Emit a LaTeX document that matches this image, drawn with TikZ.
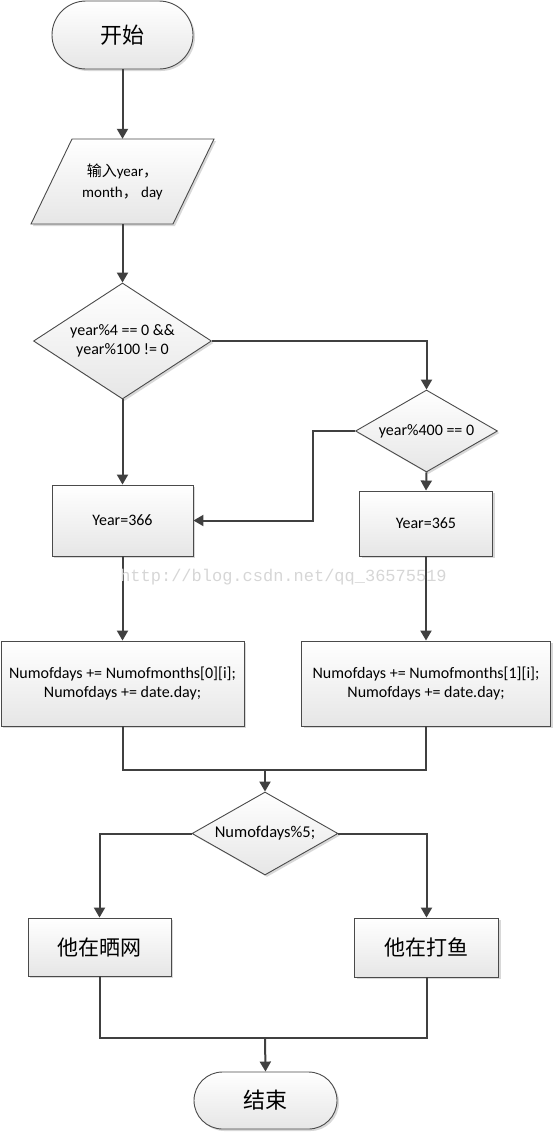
\documentclass[tikz,border=0pt]{standalone}
\usepackage{fontspec}
\setmainfont{Carlito}
\newfontfamily\cjk{Noto Sans CJK SC}
\newfontfamily\wmfont{Liberation Mono}
\usetikzlibrary{shapes.geometric,arrows.meta,shadows}
\definecolor{linec}{HTML}{404040}
\definecolor{bordc}{HTML}{4A4A4A}
\definecolor{fillb}{HTML}{E6E6E6}
\definecolor{wmc}{HTML}{D6D6D6}
\tikzset{
  shapebase/.style={draw=bordc, line width=0.9pt, top color=white, bottom color=fillb,
    drop shadow={shadow xshift=2pt, shadow yshift=-2pt, fill=black!30, opacity=0.5}},
  term/.style={shapebase, rectangle, inner sep=0pt, font=\cjk\fontsize{22}{24}\selectfont},
  proc/.style={shapebase, rectangle, inner sep=0pt, align=center, font=\fontsize{16}{19}\selectfont},
  cjkproc/.style={proc, font=\cjk\fontsize{21}{24}\selectfont},
  decision/.style={shapebase, diamond, inner sep=0pt, align=center, font=\fontsize{16}{19}\selectfont},
  conn/.style={draw=linec, line width=2pt},
  arr/.style={conn, -{Triangle[length=10pt,width=11pt]}},
}
\begin{document}
\begin{tikzpicture}[x=1pt, y=-1pt]
\useasboundingbox (0,0) rectangle (554,1133);

% start
\node[term, minimum width=141pt, minimum height=68pt, rounded corners=34pt] (start) at (122.5,35) {开始};

% input parallelogram
\draw[shapebase] (72,139) -- (214,139) -- (173,224) -- (31,224) -- cycle;
\node[inner sep=0pt, minimum height=85pt, align=center, font=\fontsize{15}{21}\selectfont] (in) at (122.5,181.5)
  {{\cjk 输入}year{\cjk ，}\\month{\cjk ，} day};

% decision 1
\node[decision, shape aspect=1.53, minimum width=178pt, minimum height=116pt] (d1) at (122.5,341)
  {year\%4 == 0 \&\&\\year\%100 != 0};

% decision 2
\node[decision, shape aspect=1.73, minimum width=142pt, minimum height=82pt] (d2) at (426.5,431) {year\%400 == 0};

% year boxes
\node[proc, minimum width=141pt, minimum height=71pt] (y366) at (122.5,520.5) {Year=366};
\node[proc, minimum width=133pt, minimum height=65pt] (y365) at (426,523.5) {Year=365};

% sum boxes
\node[proc, minimum width=243pt, minimum height=85pt] (n0) at (122.5,683.5)
  {Numofdays += Numofmonths[0][i];\\Numofdays += date.day;};
\node[proc, minimum width=249pt, minimum height=85pt] (n1) at (426,683.5)
  {Numofdays += Numofmonths[1][i];\\Numofdays += date.day;};

% decision 3
\node[decision, shape aspect=1.76, minimum width=146pt, minimum height=83pt, font=\fontsize{16.5}{19}\selectfont] (d3) at (265,833.5) {Numofdays\%5;};

% outputs
\node[cjkproc, minimum width=143pt, minimum height=58pt] (w) at (99.5,947) {他在晒网};
\node[cjkproc, minimum width=144pt, minimum height=59pt] (f) at (426.5,947.5) {他在打鱼};

% end
\node[term, minimum width=143pt, minimum height=57pt, rounded corners=28.5pt] (end) at (265.5,1100.5) {结束};

% helper coordinates
\coordinate (k1) at (313,431);
\coordinate (m1) at (265,770);
\coordinate (m2) at (265,1038);

% connectors
\draw[arr] (start.south) -- (in.north);
\draw[arr] (in.south) -- (d1.north);
\draw[arr] (d1.south) -- (y366.north);
\draw[arr] (d1.east) -| (d2.north);
\draw[arr] (d2.west) -- (k1) |- (y366.east);
\draw[arr] (d2.south) -- (y365.north);
\draw[arr] (y366.south) -- (n0.north);
\draw[arr] (y365.south) -- (n1.north);
\draw[conn] (n0.south) |- (m1) -| (n1.south);
\draw[arr] (m1) -- (d3.north);
\draw[arr] (d3.west) -| (w.north);
\draw[arr] (d3.east) -| (f.north);
\draw[conn] (w.south) |- (m2) -| (f.south);
\draw[arr] (m2) -- (end.north);

% watermark
\node[text=wmc, inner sep=0pt, font=\wmfont\fontsize{17}{17}\selectfont] (wm) at (283.5,577) {http://blog.csdn.net/qq\_36575519};
\end{tikzpicture}
\end{document}
